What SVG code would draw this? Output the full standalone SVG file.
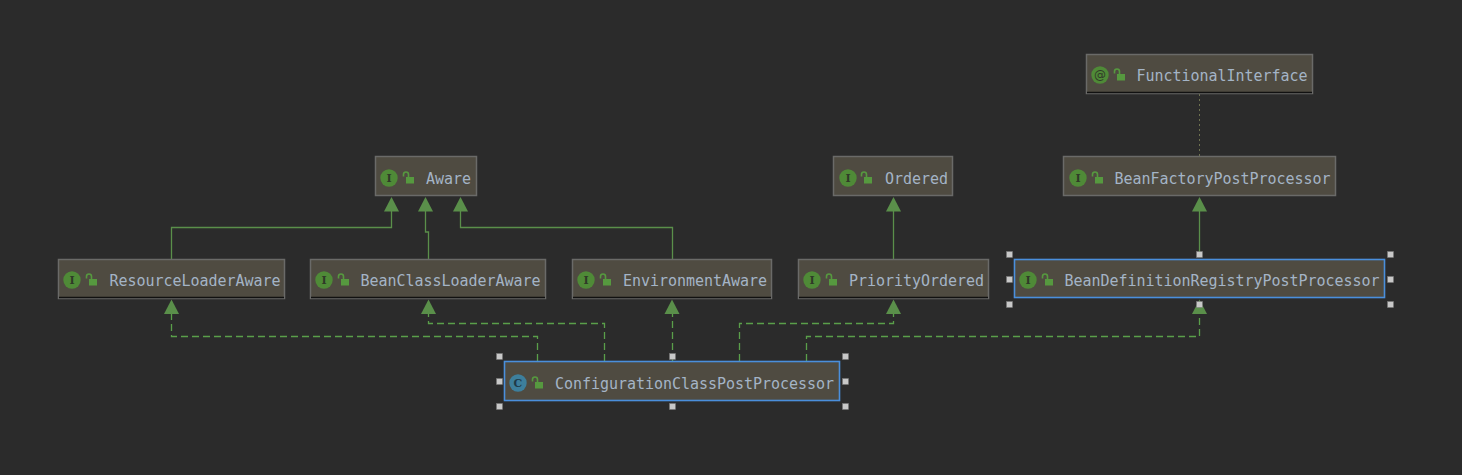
<svg xmlns="http://www.w3.org/2000/svg" width="1462" height="475" viewBox="0 0 1462 475">
<style>
.box{fill:#4f4b41;stroke:#6a6a68;stroke-width:1.5}
.sel{fill:#4f4b41;stroke:#4a8fdc;stroke-width:1.6}
.sh{stroke:#111;stroke-width:1.5}
.ic{fill:#4f8a37}
.cc{fill:#3d7f9c}
.g{font-family:"DejaVu Serif","Liberation Serif",serif;font-size:11px;font-weight:bold;fill:#2f3a28;text-anchor:middle}
.t{font-family:"DejaVu Sans Mono","Liberation Mono",monospace;font-size:15px;fill:#a4b4c6}
.lk{fill:#56993f}
.ls{fill:none;stroke:#56993f;stroke-width:1.6}
.sol{fill:none;stroke:#5a8f4a;stroke-width:1.3}
.das{fill:none;stroke:#5a9f4a;stroke-width:1.3;stroke-dasharray:7 4}
.dot{fill:none;stroke:#6f7350;stroke-width:1;stroke-dasharray:2 3}
.ar{fill:#5a8f4a}
.h{fill:#c8c8c8;stroke:#777;stroke-width:.5}
</style>
<defs>
<g id="lock"><rect class="lk" x="3" y="-1" width="8" height="6.500"/><path class="ls" d="M0.500 -1.500V-3.500A2.500 2.500 0 0 1 5.500 -3.500V-1"/></g>
<rect id="hd" class="h" x="-3" y="-3" width="6" height="6"/>
<path id="arh" class="ar" d="M0 0L7.500 14.500H-7.500Z"/>
</defs>
<rect width="1462" height="475" fill="#2b2b2b"/>
<g id="connectors">
<path class="dot" d="M1199.500 94V156"/>
<path class="sol" d="M171.500 259V227.500H391.500V205"/>
<path class="sol" d="M428.500 259V232H425.500V205"/>
<path class="sol" d="M672.500 259V227.500H460.500V205"/>
<path class="sol" d="M893.500 259V205"/>
<path class="sol" d="M1199.500 253V205"/>
<path class="das" d="M537.500 361V336.500H171.500V307"/>
<path class="das" d="M604.500 361V323.500H428.500V307"/>
<path class="das" d="M672.500 361V307"/>
<path class="das" d="M739.500 361V323.500H893.500V307"/>
<path class="das" d="M806.500 361V336.500H1199.500V307"/>
<use href="#arh" x="391.500" y="197"/><use href="#arh" x="425.500" y="197"/><use href="#arh" x="460.500" y="197"/>
<use href="#arh" x="893.500" y="197"/><use href="#arh" x="1199.500" y="197"/>
<use href="#arh" x="171.500" y="299.500"/><use href="#arh" x="428.500" y="299.500"/><use href="#arh" x="672" y="299.500"/>
<use href="#arh" x="893.500" y="299.500"/><use href="#arh" x="1199.500" y="299.500"/>
</g>
<g id="FunctionalInterface"><rect class="box" x="1086.500" y="54.500" width="226" height="39"/><path class="sh" d="M1087 92.500H1312"/><circle class="ic" cx="1100" cy="75" r="8.700"/><text class="g" x="1100" y="79" style="font-family:'DejaVu Sans',sans-serif;font-weight:normal;font-size:12px">@</text><use href="#lock" x="1114" y="75"/><text class="t" x="1136.500" y="80.500" textLength="171">FunctionalInterface</text></g>
<g id="BeanFactoryPostProcessor"><rect class="box" x="1063.500" y="156.500" width="272" height="39"/><circle class="ic" cx="1078" cy="178" r="8.700"/><text class="g" x="1078" y="182">I</text><use href="#lock" x="1092" y="178"/><text class="t" x="1114.500" y="183.500" textLength="216">BeanFactoryPostProcessor</text></g>
<g id="Aware"><rect class="box" x="375.500" y="156.500" width="101" height="39"/><circle class="ic" cx="389" cy="178" r="8.700"/><text class="g" x="389" y="182">I</text><use href="#lock" x="403" y="178"/><text class="t" x="426" y="183.500" textLength="45">Aware</text></g>
<g id="Ordered"><rect class="box" x="833.500" y="156.500" width="119" height="39"/><circle class="ic" cx="848" cy="178" r="8.700"/><text class="g" x="848" y="182">I</text><use href="#lock" x="861" y="178"/><text class="t" x="885" y="183.500" textLength="63">Ordered</text></g>
<g id="ResourceLoaderAware"><rect class="box" x="58.500" y="259.500" width="226" height="39"/><path class="sh" d="M59 297.500H284"/><circle class="ic" cx="72" cy="280" r="8.700"/><text class="g" x="72" y="284">I</text><use href="#lock" x="86" y="280"/><text class="t" x="109.500" y="285.500" textLength="171">ResourceLoaderAware</text></g>
<g id="BeanClassLoaderAware"><rect class="box" x="310.500" y="259.500" width="235" height="39"/><path class="sh" d="M311 297.500H545"/><circle class="ic" cx="324" cy="280" r="8.700"/><text class="g" x="324" y="284">I</text><use href="#lock" x="338" y="280"/><text class="t" x="360.500" y="285.500" textLength="180">BeanClassLoaderAware</text></g>
<g id="EnvironmentAware"><rect class="box" x="572.500" y="259.500" width="199" height="39"/><path class="sh" d="M573 297.500H771"/><circle class="ic" cx="586" cy="280" r="8.700"/><text class="g" x="586" y="284">I</text><use href="#lock" x="600" y="280"/><text class="t" x="623" y="285.500" textLength="144">EnvironmentAware</text></g>
<g id="PriorityOrdered"><rect class="box" x="798.500" y="259.500" width="190" height="39"/><path class="sh" d="M799 297.500H988"/><circle class="ic" cx="812" cy="280" r="8.700"/><text class="g" x="812" y="284">I</text><use href="#lock" x="826" y="280"/><text class="t" x="849" y="285.500" textLength="135">PriorityOrdered</text></g>
<g id="BeanDefinitionRegistryPostProcessor"><rect class="sel" x="1014.500" y="259.500" width="370" height="38"/><circle class="ic" cx="1028" cy="280" r="8.700"/><text class="g" x="1028" y="284">I</text><use href="#lock" x="1042" y="280"/><text class="t" x="1064.500" y="285.500" textLength="315">BeanDefinitionRegistryPostProcessor</text>
<use href="#hd" x="1009.500" y="254.500"/><use href="#hd" x="1199.500" y="254.500"/><use href="#hd" x="1390.500" y="254.500"/><use href="#hd" x="1009.500" y="279.500"/><use href="#hd" x="1390.500" y="279.500"/><use href="#hd" x="1009.500" y="304.500"/><use href="#hd" x="1199.500" y="304.500"/><use href="#hd" x="1390.500" y="304.500"/></g>
<g id="ConfigurationClassPostProcessor"><rect class="sel" x="504.500" y="361.500" width="335" height="39"/><circle class="cc" cx="518" cy="383" r="8.700"/><text class="g" x="518" y="387" style="fill:#1f3a48">C</text><use href="#lock" x="532" y="383"/><text class="t" x="555" y="388.500" textLength="279">ConfigurationClassPostProcessor</text>
<use href="#hd" x="499.500" y="356.500"/><use href="#hd" x="672.500" y="356.500"/><use href="#hd" x="845.500" y="356.500"/><use href="#hd" x="499.500" y="381.500"/><use href="#hd" x="845.500" y="381.500"/><use href="#hd" x="499.500" y="406.500"/><use href="#hd" x="672.500" y="406.500"/><use href="#hd" x="845.500" y="406.500"/></g>
</svg>
